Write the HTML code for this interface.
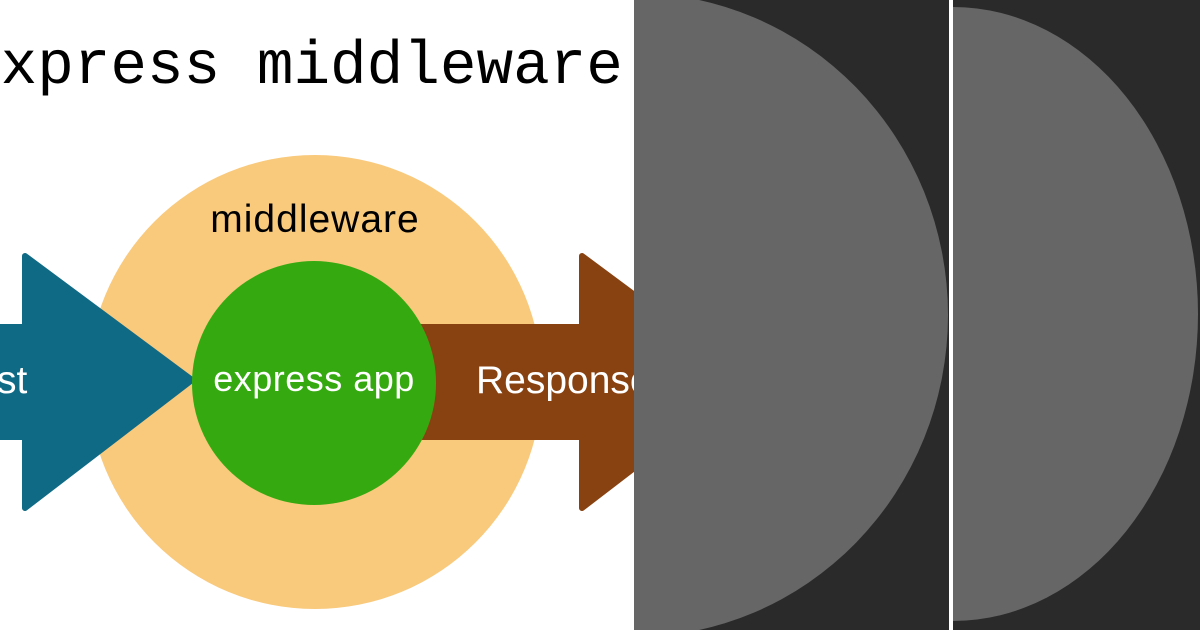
<!DOCTYPE html>
<html><head><meta charset="utf-8"><style>
html,body{margin:0;padding:0;width:1200px;height:630px;overflow:hidden;background:#fff}
svg{display:block}
</style></head><body>
<svg width="1200" height="630" viewBox="0 0 1200 630" xmlns="http://www.w3.org/2000/svg">
<defs>
<clipPath id="c1"><rect x="634" y="0" width="315" height="630"/></clipPath>
<clipPath id="c2"><rect x="953" y="0" width="247" height="630"/></clipPath>
</defs>
<rect x="0" y="0" width="634" height="630" fill="#fff"/>
<text x="-36" y="83" font-family="Liberation Mono, monospace" font-size="61" fill="#000">express middleware.</text>
<circle cx="315" cy="382" r="227" fill="#F9C97C"/>
<path d="M0,327 L25,327 L25,256 L192,380 L25,508 L25,437 L0,437 Z" fill="#0F6A85" stroke="#0F6A85" stroke-width="6" stroke-linejoin="round"/>
<path d="M400,327 L582,327 L582,256 L749,380 L582,508 L582,437 L400,437 Z" fill="#884211" stroke="#884211" stroke-width="6" stroke-linejoin="round"/>
<circle cx="314" cy="383" r="122" fill="#35AA10"/>
<text x="315" y="232" text-anchor="middle" font-family="Liberation Sans, sans-serif" font-size="39" letter-spacing="1" fill="#000">middleware</text>
<text x="314" y="391" text-anchor="middle" font-family="Liberation Sans, sans-serif" font-size="36" letter-spacing="0.5" fill="#fff">express app</text>
<text x="476" y="393" font-family="Liberation Sans, sans-serif" font-size="39" fill="#fff">Response</text>
<text x="-3" y="393" font-family="Liberation Sans, sans-serif" font-size="39" fill="#fff">st</text>
<rect x="634" y="0" width="566" height="630" fill="#2A2A2A"/>
<ellipse cx="634" cy="315" rx="314" ry="322" fill="#666" clip-path="url(#c1)"/>
<rect x="949" y="0" width="4" height="630" fill="#fff"/>
<ellipse cx="953" cy="314" rx="245" ry="307" fill="#666" clip-path="url(#c2)"/>
</svg>
</body></html>
